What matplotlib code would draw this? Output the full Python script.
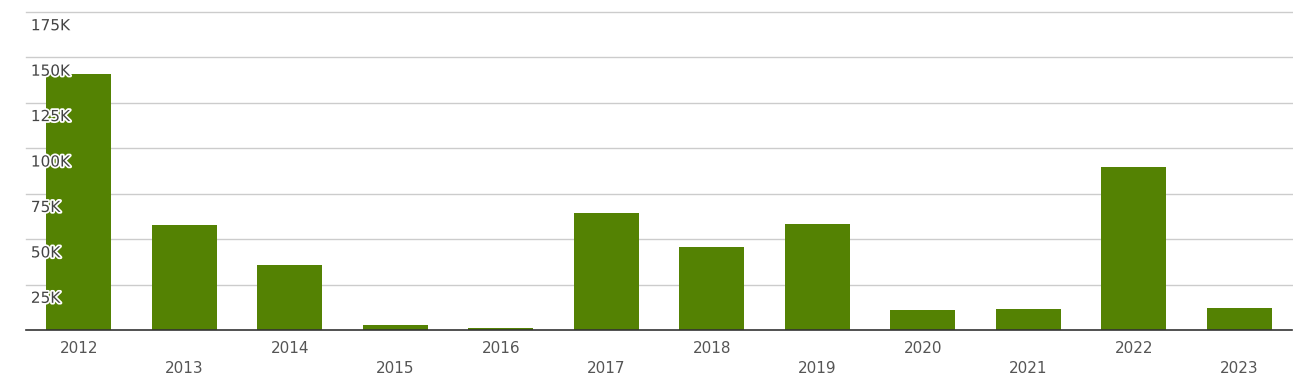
import matplotlib.pyplot as plt
import matplotlib.patheffects as pe

years = ["2012", "2013", "2014", "2015", "2016", "2017",
         "2018", "2019", "2020", "2021", "2022", "2023"]
values = [141000, 57800, 35800, 2700, 1000, 64400,
          45700, 58300, 11000, 11600, 89700, 12100]
yticks = [25000, 50000, 75000, 100000, 125000, 150000, 175000]
ytick_labels = ["25K", "50K", "75K", "100K", "125K", "150K", "175K"]

W, H = 1293, 384
fig = plt.figure(figsize=(W / 100, H / 100), dpi=100)
ax = fig.add_axes([26 / W, (H - 330) / H, 1266 / W, 318 / H])

x = range(len(years))
ax.bar(x, values, width=0.616, color="#548203", zorder=2)
ax.set_xlim(-0.5, len(years) - 0.5)
ax.set_ylim(0, 175000)

for v in yticks:
    ax.axhline(v, color="#cccccc", lw=1, zorder=1, clip_on=False)
ax.axhline(0, color="#333333", lw=1.2, zorder=3, clip_on=False)

outline = [pe.withStroke(linewidth=2.5, foreground="white")]
for v, lab in zip(yticks, ytick_labels):
    ax.annotate(lab, xy=(0, v), xycoords=("axes fraction", "data"),
                xytext=(3.5, -4.5), textcoords="offset points", ha="left", va="top",
                fontsize=11, color="#444444", path_effects=outline, zorder=4)

for i, yr in enumerate(years):
    off = -13.5 if i % 2 == 0 else -27.5
    ax.annotate(yr, xy=(i, 0), xycoords="data", xytext=(0, off),
                textcoords="offset points", ha="center", va="center",
                fontsize=11, color="#555555", annotation_clip=False)

ax.set_xticks([])
ax.set_yticks([])
for s in ax.spines.values():
    s.set_visible(False)

fig.savefig("out.png", dpi=100)
